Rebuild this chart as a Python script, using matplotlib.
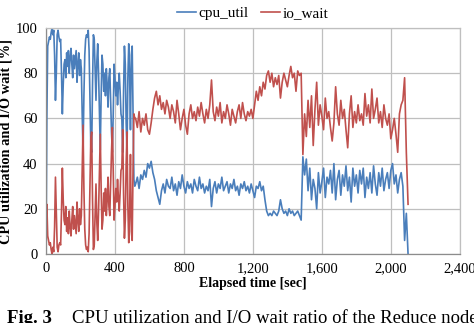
import numpy as np
import matplotlib
matplotlib.use("Agg")
import matplotlib.pyplot as plt
from matplotlib.ticker import FuncFormatter

# sampling: every 5 s during the map/shuffle phase, every 10 s afterwards
time_fast = np.arange(0, 520, 5)
time_slow = np.arange(520, 2110, 10)

cpu_fast = [0, 60, 92, 94, 96, 95, 98, 100, 97, 99, 88, 68, 80, 97, 99, 96, 94, 95, 80, 62,
            75, 84, 86, 78, 89, 83, 90, 80, 87, 91, 84, 78, 88, 82, 86, 90, 76, 84, 89, 79,
            86, 82, 62, 45, 70, 88, 95, 97, 96, 99, 90, 70, 48, 45, 75, 97, 95, 82, 68, 85,
            93, 80, 62, 46, 70, 88, 84, 72, 80, 70, 82, 75, 65, 78, 82, 68, 54, 45, 62, 84,
            78, 70, 76, 66, 74, 80, 72, 62, 60, 45, 72, 92, 84, 58, 45, 78, 93, 80, 55, 88,
            92, 62, 33, 30]
io_fast = [0, 22, 8, 6, 4, 5, 2, 0, 3, 1, 12, 34, 18, 3, 1, 4, 5, 4, 19, 38,
           24, 15, 13, 21, 10, 16, 9, 19, 12, 8, 15, 21, 11, 17, 13, 9, 23, 15, 10, 20,
           13, 17, 37, 57, 29, 11, 4, 2, 3, 1, 9, 29, 51, 54, 24, 2, 4, 17, 31, 14,
           6, 19, 37, 53, 29, 11, 15, 27, 19, 29, 17, 24, 34, 21, 17, 31, 45, 56, 37, 15,
           21, 29, 23, 33, 25, 19, 27, 37, 38, 55, 27, 7, 15, 40, 54, 21, 5, 18, 44, 10,
           6, 38, 62, 60]

cpu_slow = [31, 34, 29, 35, 33, 37, 34, 40, 38, 41, 36, 33, 28, 25, 22, 28, 31, 27, 33, 30,
            29, 34, 28, 31, 26, 32, 29, 35, 30, 27, 32, 29, 31, 27, 33, 30, 28, 34, 29, 31,
            27, 30, 28, 33, 21, 29, 32, 27, 31, 29, 34, 28, 30, 32, 27, 31, 29, 33, 28, 30,
            26, 31, 29, 32, 28, 30, 27, 31, 28, 25, 30, 29, 32, 28, 30, 24, 19, 17, 18, 17,
            19, 18, 17, 19, 24, 20, 18, 19, 17, 20, 18, 19, 17, 18, 19, 17, 15, 43, 35, 42,
            28, 38, 24, 33, 29, 20, 36, 27, 32, 38, 25, 34, 31, 37, 27, 40, 24, 33, 37, 26,
            35, 30, 39, 28, 34, 23, 38, 30, 35, 27, 37, 31, 38, 25, 34, 29, 36, 27, 39, 31,
            26, 36, 30, 38, 28, 33, 36, 29, 37, 40, 31, 35, 27, 33, 36, 30, 6, 18, 0]
io_slow = [60, 56, 63, 54, 60, 57, 62, 55, 53, 58, 64, 69, 72, 66, 70, 64, 67, 62, 68, 65,
           60, 66, 63, 58, 68, 62, 55, 60, 64, 57, 53, 62, 66, 60, 63, 59, 65, 61, 67, 62,
           58, 64, 60, 66, 77, 63, 59, 65, 61, 67, 58, 63, 60, 66, 62, 57, 64, 61, 58, 63,
           66, 60, 67, 62, 59, 63, 61, 64, 60, 66, 72, 68, 74, 70, 76, 73, 79, 81, 76, 80,
           74, 78, 75, 79, 69, 76, 80, 77, 74, 79, 83, 78, 80, 72, 81, 79, 80, 44, 62, 52,
           68, 56, 70, 48, 64, 76, 57, 66, 61, 55, 69, 60, 63, 56, 50, 58, 74, 62, 57, 68,
           60, 64, 55, 47, 62, 70, 56, 63, 58, 66, 59, 62, 57, 71, 61, 66, 58, 73, 60, 64,
           69, 58, 63, 56, 66, 60, 57, 62, 51, 55, 60, 53, 45, 62, 66, 68, 78, 45, 22]

# the slow series runs one sample past the last 10 s tick
time_slow = np.append(time_slow, 2100)[:len(cpu_slow)]
time = np.concatenate([time_fast, time_slow])
cpu_util = np.concatenate([cpu_fast, cpu_slow])
io_wait = np.concatenate([io_fast, io_slow])

plt.rcParams['font.family'] = ['Liberation Serif', 'DejaVu Serif']

fig = plt.figure(figsize=(4.74, 3.23), dpi=100)
ax = fig.add_axes([0.097, 0.2136, 0.873, 0.6997])

ax.plot(time, cpu_util, color='#4a7ebb', lw=1.2, label='cpu_util')
ax.plot(time, io_wait, color='#c0504d', lw=1.2, label='io_wait')

ax.set_xlim(0, 2400)
ax.set_ylim(0, 100)
ax.set_xticks(np.arange(0, 2401, 400))
ax.set_yticks(np.arange(0, 101, 20))
ax.xaxis.set_major_formatter(FuncFormatter(lambda v, p: f'{int(v):,}'))
ax.tick_params(length=0, labelsize=10.5, pad=6)
ax.grid(True, color='#bfbfbf', lw=0.9)
ax.set_axisbelow(True)
for s in ax.spines.values():
    s.set_color('#bfbfbf')
    s.set_linewidth(0.9)
ax.spines['bottom'].set_color('#8c8c8c')
ax.spines['left'].set_color('#8c8c8c')

ax.set_xlabel('Elapsed time [sec]', fontsize=10, fontweight='bold')
ax.xaxis.set_label_coords(0.5, -0.10)
ax.set_ylabel('CPU utilization and I/O wait [%]', fontsize=10.4, fontweight='bold')
ax.yaxis.set_label_coords(-0.08, 0.5)

ax.legend(loc='lower center', bbox_to_anchor=(0.5, 1.0), ncol=2, frameon=False,
          fontsize=11, handlelength=1.2, handletextpad=0.2, columnspacing=0.8,
          borderaxespad=0.1)

fig.text(0.015, 0.0, 'Fig. 3', fontsize=13.5, fontweight='bold', va='baseline')
fig.text(0.152, 0.0, 'CPU utilization and I/O wait ratio of the Reduce node',
         fontsize=13.5, va='baseline')

fig.savefig('out.png', dpi=100)
